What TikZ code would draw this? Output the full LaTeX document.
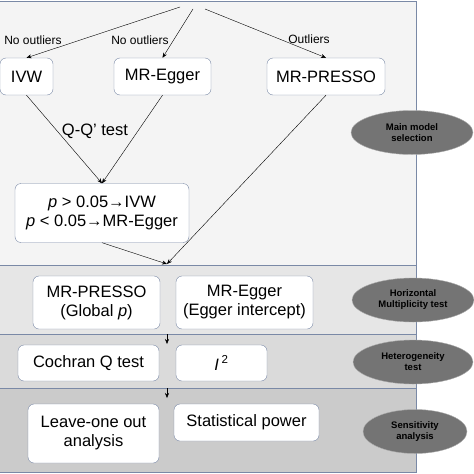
\documentclass[tikz,border=0pt]{standalone}
\usepackage{fontspec}
\setmainfont{Liberation Sans}
\usetikzlibrary{arrows.meta, shapes.geometric}

\definecolor{bandA}{HTML}{F4F4F4}
\definecolor{bandB}{HTML}{E6E6E6}
\definecolor{bandC}{HTML}{DADADA}
\definecolor{bandD}{HTML}{CBCBCB}
\definecolor{frame}{HTML}{7A89A6}
\definecolor{ovalfill}{HTML}{747474}

\tikzset{
  box/.style = {draw=frame, fill=white, rounded corners=6pt, align=center,
                font=\fontsize{16.5}{19}\selectfont, inner sep=2pt},
  oval/.style = {ellipse, draw=ovalfill!60, fill=ovalfill, align=center,
                 font=\fontsize{9.5}{11}\selectfont\bfseries, inner sep=0pt},
  arr/.style = {-{Stealth[length=5pt,width=4pt]}, thin},
  lbl/.style = {font=\fontsize{12}{14}\selectfont}
}

\begin{document}
\begin{tikzpicture}[x=1pt, y=-1pt]
\useasboundingbox (0,0) rectangle (474,474);

% bands
	\draw[frame, fill=bandA] (-2,1) rectangle (416,265);
	\draw[frame, fill=bandB] (-2,265) rectangle (416,334);
	\draw[frame, fill=bandC] (-2,334) rectangle (416,388);
	\draw[frame, fill=bandD] (-2,388) rectangle (416,472);

% start points and merge point
	\coordinate (src1) at (180,7);
	\coordinate (src2) at (193,9);
	\coordinate (src3) at (205,9);
	\coordinate (merge) at (167,264);
	\coordinate (gapB) at (167,334);
	\coordinate (gapBend) at (167,344);
	\coordinate (gapC) at (167,388);
	\coordinate (gapCend) at (167,398);

% model boxes
	\node[box, minimum width=53pt, minimum height=37pt] (ivw) at (26.5,76.5) {IVW};
	\node[box, minimum width=97pt, minimum height=37pt] (egger) at (162.5,76.5) {MR-Egger};
	\node[box, minimum width=118pt, minimum height=37pt] (presso) at (326,76.5) {MR-PRESSO};
	\node[box, minimum width=174pt, minimum height=59pt] (decide) at (102,213)
		{\textit{p} > 0.05→IVW\\\textit{p} < 0.05→MR-Egger};

% pleiotropy, heterogeneity, sensitivity boxes
	\node[box, minimum width=127pt, minimum height=53pt] (globp) at (96.5,302.5)
		{MR-PRESSO\\(Global \textit{p})};
	\node[box, minimum width=137pt, minimum height=53pt] (intercept) at (244.5,302.5)
		{MR-Egger\\(Egger intercept)};
	\node[box, minimum width=141pt, minimum height=36pt] (cochran) at (88.5,363) {Cochran Q test};
	\node[box, minimum width=91pt, minimum height=36pt] (isq) at (221.5,363) {\textit{I}\,\textsuperscript{2}};
	\node[box, minimum width=131pt, minimum height=59pt] (loo) at (93.5,433.5)
		{Leave-one out\\analysis};
	\node[box, minimum width=145pt, minimum height=37pt] (power) at (246.5,422.5) {Statistical power};

% side ovals
	\node[oval, minimum width=122pt, minimum height=44pt] (mainsel) at (412,132.5)
		{Main model\\selection};
	\node[oval, minimum width=122pt, minimum height=44pt] (horiz) at (413,300)
		{Horizontal\\Multiplicity test};
	\node[oval, minimum width=120pt, minimum height=44pt] (hetero) at (413,362)
		{Heterogeneity\\test};
	\node[oval, minimum width=104pt, minimum height=44pt] (sens) at (415,431.5)
		{Sensitivity\\analysis};

% arrows
	\draw[arr] (src1) -- (ivw.north);
	\draw[arr] (src2) -- (egger.north);
	\draw[arr] (src3) -- (presso.north);
	\draw[arr] (ivw.south) -- (decide.north);
	\draw[arr] (egger.south) -- (decide.north);
	\draw[arr] (decide.south) -- (merge);
	\draw[arr] (presso.south) -- (merge);
	\draw[arr] (gapB) -- (gapBend);
	\draw[arr] (gapC) -- (gapCend);

% arrow labels
	\node[lbl] (lab1) at (33,40) {No outliers};
	\node[lbl] (lab2) at (140,40) {No outliers};
	\node[lbl] (lab3) at (309,39) {Outliers};
	\node[font=\fontsize{16.5}{19}\selectfont] (lab4) at (95,131) {Q-Q’ test};

\end{tikzpicture}
\end{document}
